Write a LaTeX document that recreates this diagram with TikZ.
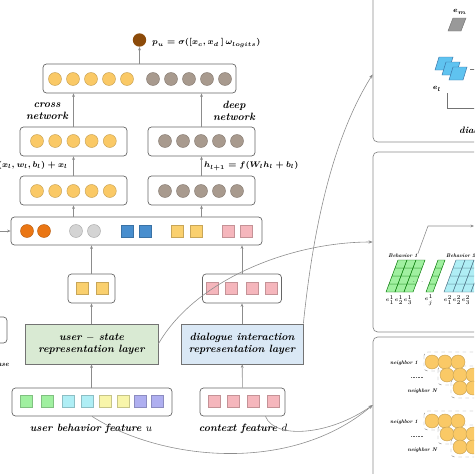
\documentclass[tikz,border=0pt]{standalone}
\usetikzlibrary{arrows.meta}
\definecolor{cyel}{RGB}{250,201,102}
\definecolor{cbrn}{RGB}{168,154,142}
\definecolor{corg}{RGB}{234,118,20}
\definecolor{cgry}{RGB}{212,212,212}
\definecolor{cblu}{RGB}{72,142,206}
\definecolor{csqy}{RGB}{250,208,110}
\definecolor{cpnk}{RGB}{245,182,188}
\definecolor{cout}{RGB}{140,75,10}
\definecolor{cgbx}{RGB}{217,234,211}
\definecolor{cbbx}{RGB}{218,232,245}
\definecolor{cg}{RGB}{160,240,160}
\definecolor{cc}{RGB}{175,238,245}
\definecolor{cy}{RGB}{248,245,170}
\definecolor{cp}{RGB}{175,175,240}
\definecolor{csky}{RGB}{95,195,240}
\tikzset{
  lay/.style={draw=black!60,rounded corners=3pt,line width=0.6pt,inner sep=0pt},
  pan/.style={draw=black!45,rounded corners=4pt,line width=0.6pt,inner sep=0pt},
  dot/.style={circle,draw=#1!80!black,fill=#1,minimum size=0.39cm,inner sep=0pt},
  sq/.style={rectangle,draw=#1!80!black,fill=#1,minimum size=0.37cm,inner sep=0pt},
  arr/.style={-{Stealth[length=3pt,width=2.4pt]},draw=black!45,line width=0.5pt},
  lnk/.style={-{Stealth[length=3.5pt,width=2.8pt]},draw=black!45,line width=0.5pt},
  lbl/.style={font=\fontsize{9}{10.5}\selectfont\bfseries\itshape,align=center,inner sep=0pt},
  eq/.style={font=\fontsize{6.6}{8}\selectfont\boldmath,inner sep=0pt},
  tiny/.style={font=\fontsize{4.5}{5}\selectfont\bfseries\itshape,inner sep=0pt},
}
\begin{document}
\begin{tikzpicture}[x=0.03cm,y=-0.03cm]
\useasboundingbox (0,0) rectangle (474,474);
\clip (0,0) rectangle (474,474);
% wide & deep part
\node[circle,fill=cout,minimum size=0.4cm,inner sep=0pt] (out) at (139.5,40) {};
\node[eq,anchor=west] (pu) at (152,43) {$p_u=\sigma([x_c,x_d\,]\,\omega_{logits})$};
\node[lay,minimum width=5.79cm,minimum height=0.87cm] (top) at (139.5,78.5) {};
\foreach \i in {0,...,4} \node[dot=cyel] (ty\i) at (55+18*\i,79) {};
\foreach \i in {0,...,4} \node[dot=cbrn] (tb\i) at (153+18*\i,79) {};
\node[lay,minimum width=3.21cm,minimum height=0.87cm] (cr2) at (73.5,141.5) {};
\node[lay,minimum width=3.21cm,minimum height=0.87cm] (dp2) at (201.5,141.5) {};
\node[lay,minimum width=3.21cm,minimum height=0.87cm] (cr1) at (73.5,190.5) {};
\node[lay,minimum width=3.21cm,minimum height=0.87cm] (dp1) at (201.5,190.5) {};
\foreach \i in {0,...,4} {
  \node[dot=cyel] (ca\i) at (37+18.2*\i,141) {};
  \node[dot=cbrn] (da\i) at (165+18*\i,141) {};
  \node[dot=cyel] (cb\i) at (37+18.2*\i,191) {};
  \node[dot=cbrn] (db\i) at (165+18*\i,191) {};
}
\node[lbl] (crl) at (47,111) {cross\\network};
\node[lbl] (dpl) at (234,111) {deep\\network};
\node[eq,anchor=east] (fx) at (68,166) {$x_{l+1}=f(x_l,w_l,b_l)+x_l$};
\node[eq,anchor=west] (fh) at (204,166) {$h_{l+1}=f(W_lh_l+b_l)$};
% embedding
\node[lay,minimum width=7.53cm,minimum height=0.84cm] (emb) at (136.5,231) {};
\node[dot=corg] (e0) at (27,231) {};
\node[dot=corg] (e1) at (44,231) {};
\node[dot=cgry] (e2) at (76,231) {};
\node[dot=cgry] (e3) at (94,231) {};
\node[sq=cblu] (e4) at (127,231) {};
\node[sq=cblu] (e5) at (145,231) {};
\node[sq=csqy] (e6) at (177,231) {};
\node[sq=csqy] (e7) at (196,231) {};
\node[sq=cpnk] (e8) at (228,231) {};
\node[sq=cpnk] (e9) at (246,231) {};
\coordinate (lin) at (0,231);
% representation layers
\node[lay,minimum width=1.41cm,minimum height=0.87cm] (us) at (91.5,288.5) {};
\node[sq=csqy] (us0) at (82,288) {};
\node[sq=csqy] (us1) at (102,288) {};
\node[lay,minimum width=2.37cm,minimum height=0.87cm] (ds) at (242,288.5) {};
\foreach \i/\x in {0/212,1/231,2/252,3/271} \node[sq=cpnk] (ds\i) at (\x,288) {};
\node[draw=black!55,fill=cgbx,line width=0.6pt,minimum width=3.99cm,minimum height=1.2cm,lbl] (gbox) at (91.5,344) {user $-$ state\\representation layer};
\node[draw=black!55,fill=cbbx,line width=0.6pt,minimum width=3.66cm,minimum height=1.2cm,lbl] (bbox) at (242,344) {dialogue interaction\\representation layer};
% input features
\node[lay,minimum width=4.8cm,minimum height=0.84cm] (user) at (92,402) {};
\foreach \i/\x/\c in {0/26/cg,1/47/cg,2/68/cc,3/87/cc,4/105/cy,5/123/cy,6/140/cp,7/157/cp}
  \node[sq=\c] (u\i) at (\x,401) {};
\node[lay,minimum width=2.55cm,minimum height=0.84cm] (ctx) at (242.5,402) {};
\foreach \i/\x in {0/214,1/233,2/253,3/273} \node[sq=cpnk] (c\i) at (\x,401) {};
\node[lbl] (ul) at (91,429) {user behavior feature $u$};
\node[lbl] (cl) at (243,429) {context feature $d$};
% cut-off box on the left
\node[lay,minimum width=1.2cm,minimum height=0.78cm] (lbox) at (-13,330) {};
\node[tiny,anchor=east,font=\fontsize{6}{7}\selectfont\bfseries\itshape] (ll) at (9,366) {response};
% vertical arrows
\draw[arr] (out.south |- top.north) -- (out);
\draw[arr] (cr2.north) -- (cr2.north |- top.south);
\draw[arr] (dp2.north) -- (dp2.north |- top.south);
\draw[arr] (cr1) -- (cr2);
\draw[arr] (dp1) -- (dp2);
\draw[arr] (cr1.south |- emb.north) -- (cr1.south);
\draw[arr] (dp1.south |- emb.north) -- (dp1.south);
\draw[arr] (lin) -- (emb.west);
\draw[arr] (us) -- (us.north |- emb.south);
\draw[arr] (ds) -- (ds.north |- emb.south);
\draw[arr] (gbox) -- (us);
\draw[arr] (bbox) -- (ds);
\draw[arr] (user.north -| gbox.south) -- (gbox.south);
\draw[arr] (ctx) -- (bbox);
% right panels
\node[pan,minimum width=4.41cm,minimum height=5.16cm] (p1) at (446.5,56) {};
\node[pan,minimum width=4.41cm,minimum height=5.4cm] (p2) at (446.5,242) {};
\node[pan,minimum width=4.41cm,minimum height=5.19cm] (p3) at (446.5,423.5) {};
% panel 1
\node[eq,font=\fontsize{6}{7}\selectfont\boldmath] (em) at (460,12) {$e_m$};
\draw[fill=black!40,draw=black!55] (448,31) -- (461,31) -- (466,18) -- (453,18) -- cycle;
\foreach \k in {0,1,2}
  \draw[fill=csky,draw=cblu!80!black] (435+7*\k,70+5*\k) -- ++(14,0) -- ++(4,-13) -- ++(-14,0) -- cycle;
\node[eq,font=\fontsize{6}{7}\selectfont\boldmath] (el) at (437,89) {$e_l$};
\draw[black!55] (447,93) -- (447,108) -- (480,108);
\draw[black!55] (470,69) -- (480,69);
\node[lbl,anchor=west,font=\fontsize{8}{9}\selectfont\bfseries\itshape] (dl) at (459,131) {dialogue};
% panel 2
\node[tiny] (b1) at (403,256) {Behavior 1};
\node[tiny,anchor=west] (b2) at (446,256) {Behavior 2};
\coordinate (bt) at (474,226);
\draw[arr] (b1.north east) -- (428,226) -- (bt);
\foreach \i in {0,1,2} \foreach \j in {0,...,3}
  \draw[fill=cg,draw=green!45!black] (386+9*\i+3*\j,292-8*\j) -- ++(9,0) -- ++(3,-8) -- ++(-9,0) -- cycle;
\foreach \j in {0,...,3}
  \draw[fill=cg,draw=green!45!black] (426+3*\j,292-8*\j) -- ++(7,0) -- ++(3,-8) -- ++(-7,0) -- cycle;
\foreach \i in {0,...,3} \foreach \j in {0,...,3}
  \draw[fill=cc,draw=cyan!45!black] (444+9*\i+3*\j,292-8*\j) -- ++(9,0) -- ++(3,-8) -- ++(-9,0) -- cycle;
\node[tiny] (dd) at (418,282) {$\cdots$};
\foreach \i in {1,2,3} \node[tiny] (g\i) at (381+9*\i,300) {$e_{\i}^1$};
\node[tiny] (gj) at (429,300) {$e_j^1$};
\foreach \i in {1,2,3} \node[tiny] (h\i) at (439+9*\i,300) {$e_{\i}^2$};
% panel 3
\foreach \o in {0,59} {
  \draw[dashed,black!45,rounded corners=3pt] (424,352+\o) rectangle (490,371+\o);
  \draw[dashed,black!45,rounded corners=3pt] (438,366+\o) rectangle (490,385+\o);
  \draw[dashed,black!45,rounded corners=3pt] (451,379+\o) rectangle (490,398+\o);
  \foreach \x in {432,445,458} \node[dot=cyel,minimum size=0.42cm] at (\x,362+\o) {};
  \foreach \x in {447,460,473} \node[dot=cyel,minimum size=0.42cm] at (\x,375+\o) {};
  \foreach \x in {460,473} \node[dot=cyel,minimum size=0.42cm] at (\x,388+\o) {};
  \node[tiny,anchor=east] at (418,363+\o) {neighbor 1};
  \node[tiny,anchor=east] at (437,391+\o) {neighbor N};
  \draw[densely dotted,black!60] (411,377+\o) -- (423,377+\o);
}
% links to the panels
\draw[lnk] (gbox.east) .. controls (195,280) and (290,242) .. (p2.west);
\draw[lnk] (bbox.north east) .. controls (310,260) and (325,150) .. (p1.194);
\draw[lnk] (user.south) .. controls (160,460) and (290,475) .. (p3.166);
\draw[lnk] (ctx.-32) .. controls (275,440) and (330,435) .. (p3.166);
\end{tikzpicture}
\end{document}
